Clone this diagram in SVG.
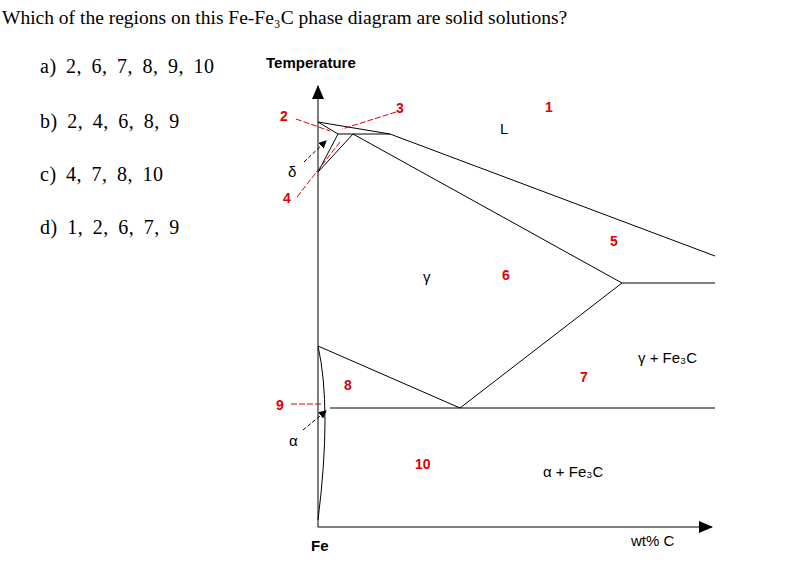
<svg xmlns="http://www.w3.org/2000/svg" width="808" height="565" viewBox="0 0 808 565">
<style>
.q{font-family:"Liberation Serif",serif;font-size:19.5px;fill:#000}
.q2{font-family:"Liberation Serif",serif;font-size:20px;fill:#000;word-spacing:4px;letter-spacing:0.5px}
.s{font-family:"Liberation Sans",Arial,sans-serif;font-size:15px;fill:#000}
.r{font-family:"Liberation Sans",Arial,sans-serif;font-size:14px;font-weight:bold;fill:#e00000}
.l{stroke:#000;stroke-width:1;fill:none}
.rl{stroke:#e00000;stroke-width:1;fill:none;stroke-dasharray:6 2}
</style>
<defs>
<marker id="ah" markerWidth="8" markerHeight="8" refX="7" refY="4" orient="auto" markerUnits="userSpaceOnUse"><path d="M0,0 L8,4 L0,8z" fill="#000"/></marker>
<marker id="big" markerWidth="14" markerHeight="12" refX="13" refY="6" orient="auto" markerUnits="userSpaceOnUse"><path d="M0,0 L14,6 L0,12z" fill="#000"/></marker>
</defs>
<rect width="808" height="565" fill="#fff"/>
<text class="q" x="2" y="24">Which of the regions on this Fe-Fe₃C phase diagram are solid solutions?</text>
<text class="q2" x="40" y="73">a)  2, 6, 7, 8, 9, 10</text>
<text class="q2" x="40" y="128">b)  2, 4, 6, 8, 9</text>
<text class="q2" x="40" y="181">c)  4, 7, 8, 10</text>
<text class="q2" x="40" y="234">d)  1, 2, 6, 7, 9</text>
<text class="s" x="266" y="68" font-weight="bold" font-size="15.5">Temperature</text>
<g id="axes">
<line class="l" x1="318" y1="527" x2="318" y2="86" stroke-width="2" marker-end="url(#big)"/>
<line class="l" x1="318" y1="527" x2="712" y2="527" stroke-width="3" marker-end="url(#big)"/>
</g>
<g id="connectors">
<polyline class="l" points="318,122 390,134 715,256"/>
<polyline class="l" points="318,122 338,134 318,172"/>
<line class="l" x1="338" y1="134" x2="390" y2="134" stroke-width="1.5"/>
<polyline class="l" points="318,172 353,134 622,283"/>
<line class="l" x1="622" y1="283" x2="715" y2="283" stroke-width="2"/>
<line class="l" x1="622" y1="283" x2="460" y2="408"/>
<line class="l" x1="318" y1="346" x2="460" y2="408"/>
<line class="l" x1="330" y1="408" x2="715" y2="408"/>
<path class="l" d="M318,346 Q332,408 318,520"/>
<line class="rl" x1="296" y1="119" x2="330" y2="131"/>
<line class="rl" x1="396" y1="112" x2="342" y2="129"/>
<line class="rl" x1="297" y1="197" x2="340" y2="142"/>
<line class="rl" x1="291" y1="404" x2="322" y2="404"/>
<line class="l" x1="304" y1="162" x2="326" y2="141" stroke-dasharray="4 2" marker-end="url(#ah)"/>
<line class="l" x1="303" y1="430" x2="326" y2="411" stroke-dasharray="4 2" marker-end="url(#ah)"/>
</g>
<g id="labels">
<text class="r" x="545" y="112">1</text>
<text class="r" x="280" y="121">2</text>
<text class="r" x="396" y="113">3</text>
<text class="r" x="283" y="203">4</text>
<text class="r" x="610" y="246">5</text>
<text class="r" x="502" y="280">6</text>
<text class="r" x="580" y="382">7</text>
<text class="r" x="344" y="390">8</text>
<text class="r" x="276" y="410">9</text>
<text class="r" x="415" y="469">10</text>
<text class="s" x="500" y="134">L</text>
<text class="s" x="288" y="177">δ</text>
<text class="s" x="289" y="446">α</text>
<text class="s" x="423" y="282">γ</text>
<text class="s" x="638" y="363">γ + Fe₃C</text>
<text class="s" x="543" y="477">α + Fe₃C</text>
<text class="s" x="311" y="551" font-size="17" font-weight="bold">Fe</text>
<text class="s" x="631" y="546">wt% C</text>
</g>
</svg>
